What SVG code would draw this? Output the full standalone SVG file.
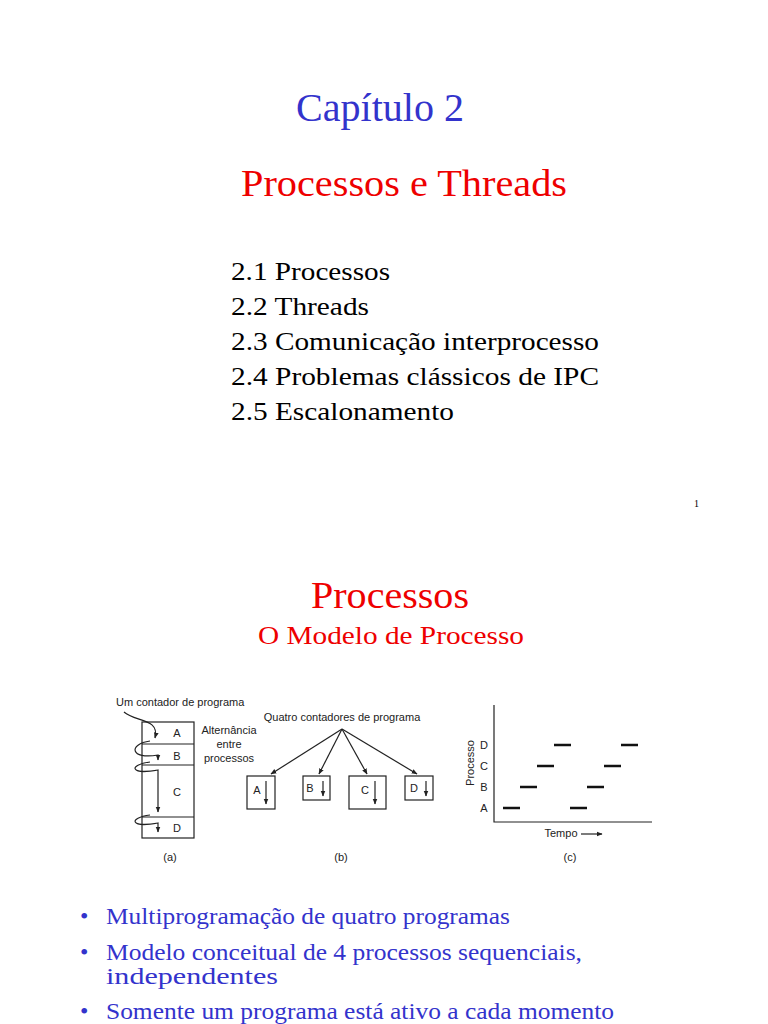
<svg xmlns="http://www.w3.org/2000/svg" width="768" height="1024" viewBox="0 0 768 1024">
<defs>
<style>
.s{font-family:"Liberation Serif",serif}
.f{font-family:"Liberation Sans",sans-serif;font-size:11px;fill:#222}
.l{stroke:#222;stroke-width:1.2;fill:none}
.d{stroke:#111;stroke-width:2.5}
</style>
<marker id="a" viewBox="0 0 10 10" refX="9" refY="5" markerWidth="5" markerHeight="5" orient="auto"><path d="M0,1L10,5L0,9z" fill="#222"/></marker>
</defs>
<rect width="768" height="1024" fill="#fff"/>
<text class="s" x="296" y="121" font-size="40" fill="#3333cc" textLength="168" lengthAdjust="spacingAndGlyphs">Capítulo 2</text>
<text class="s" x="241" y="196" font-size="37" fill="#ee0000" textLength="326" lengthAdjust="spacingAndGlyphs">Processos e Threads</text>
<g class="s" font-size="25" fill="#000">
<text x="231" y="280" textLength="159" lengthAdjust="spacingAndGlyphs">2.1 Processos</text>
<text x="231" y="315" textLength="138" lengthAdjust="spacingAndGlyphs">2.2 Threads</text>
<text x="231" y="350" textLength="368" lengthAdjust="spacingAndGlyphs">2.3 Comunicação interprocesso</text>
<text x="231" y="385" textLength="368" lengthAdjust="spacingAndGlyphs">2.4 Problemas clássicos de IPC</text>
<text x="231" y="420" textLength="223" lengthAdjust="spacingAndGlyphs">2.5 Escalonamento</text>
</g>
<text class="s" x="694" y="507" font-size="10">1</text>
<text class="s" x="311" y="608" font-size="37" fill="#ee0000" textLength="158" lengthAdjust="spacingAndGlyphs">Processos</text>
<text class="s" x="258" y="644" font-size="25" fill="#ee0000" textLength="266" lengthAdjust="spacingAndGlyphs">O Modelo de Processo</text>
<g id="fig-a">
<text class="f" x="116" y="706">Um contador de programa</text>
<rect class="l" x="142" y="722" width="52" height="116"/>
<path class="l" d="M142,744H194M142,765H194M142,817H194"/>
<text class="f" x="177" y="737" text-anchor="middle">A</text>
<text class="f" x="177" y="760" text-anchor="middle">B</text>
<text class="f" x="177" y="796" text-anchor="middle">C</text>
<text class="f" x="177" y="832" text-anchor="middle">D</text>
<path class="l" marker-end="url(#a)" d="M124,712C135,722 160,718 155,738"/>
<path class="l" marker-end="url(#a)" d="M150,741C128,744 130,760 158,755V760"/>
<path class="l" marker-end="url(#a)" d="M150,762C128,765 130,775 158,770V812"/>
<path class="l" marker-end="url(#a)" d="M150,815C128,818 130,828 158,823V832"/>
<text class="f" x="229" y="734" text-anchor="middle">Alternância</text>
<text class="f" x="229" y="748" text-anchor="middle">entre</text>
<text class="f" x="229" y="762" text-anchor="middle">processos</text>
<text class="f" x="170" y="861" text-anchor="middle">(a)</text>
</g>
<g id="fig-b">
<text class="f" x="342" y="721" text-anchor="middle">Quatro contadores de programa</text>
<g class="l">
<rect x="247" y="776" width="28" height="33"/>
<rect x="303" y="776" width="27" height="24"/>
<rect x="349" y="776" width="37" height="33"/>
<rect x="405" y="776" width="28" height="24"/>
</g>
<text class="f" x="257" y="794" text-anchor="middle">A</text>
<text class="f" x="310" y="792" text-anchor="middle">B</text>
<text class="f" x="365" y="794" text-anchor="middle">C</text>
<text class="f" x="414" y="792" text-anchor="middle">D</text>
<g class="l" marker-end="url(#a)">
<path d="M342,729L271,774"/><path d="M342,729L319,774"/><path d="M342,729L367,774"/><path d="M342,729L417,774"/>
<path d="M266,781V804"/><path d="M323,781V796"/><path d="M375,781V804"/><path d="M426,781V796"/>
</g>
<text class="f" x="341" y="861" text-anchor="middle">(b)</text>
</g>
<g id="fig-c">
<path class="l" d="M494,705V822H652"/>
<text class="f" transform="translate(474,763) rotate(-90)" text-anchor="middle">Processo</text>
<text class="f" x="484" y="749" text-anchor="middle">D</text>
<text class="f" x="484" y="770" text-anchor="middle">C</text>
<text class="f" x="484" y="791" text-anchor="middle">B</text>
<text class="f" x="484" y="812" text-anchor="middle">A</text>
<path class="d" d="M503,808h17M570,808h17M520,787h17M587,787h17M537,766h17M604,766h17M554,745h17M621,745h17"/>
<text class="f" x="561" y="837" text-anchor="middle">Tempo</text>
<path class="l" marker-end="url(#a)" d="M581,834H602"/>
<text class="f" x="570" y="861" text-anchor="middle">(c)</text>
</g>
<g class="s" font-size="24" fill="#3333cc">
<text x="80" y="924">•</text><text x="106" y="924" textLength="404" lengthAdjust="spacingAndGlyphs">Multiprogramação de quatro programas</text>
<text x="80" y="960">•</text><text x="106" y="960" textLength="476" lengthAdjust="spacingAndGlyphs">Modelo conceitual de 4 processos sequenciais,</text>
<text x="106" y="984" textLength="172" lengthAdjust="spacingAndGlyphs">independentes</text>
<text x="80" y="1019">•</text><text x="106" y="1019" textLength="508" lengthAdjust="spacingAndGlyphs">Somente um programa está ativo a cada momento</text>
</g>
</svg>
